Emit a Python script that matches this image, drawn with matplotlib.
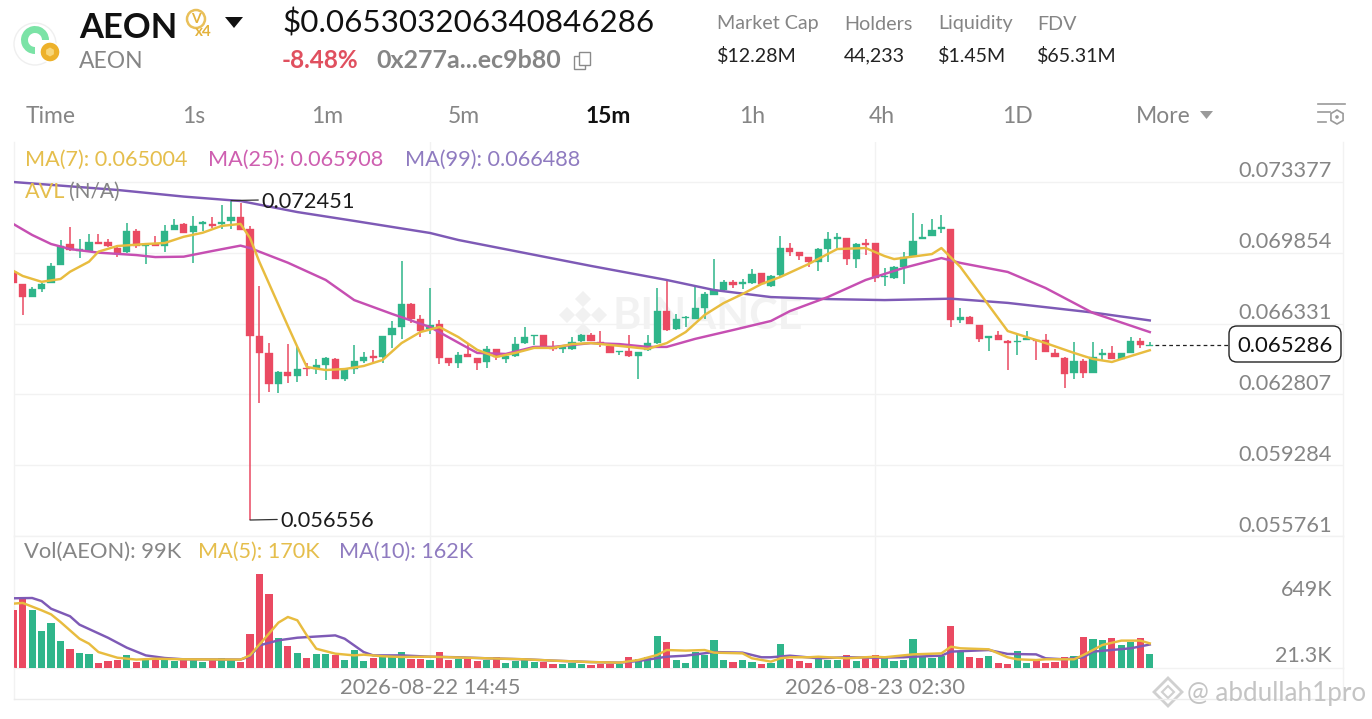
import matplotlib
matplotlib.use("Agg")
import matplotlib.pyplot as plt
from matplotlib.patches import FancyBboxPatch, Circle, Polygon, RegularPolygon, Rectangle, Wedge
from matplotlib.transforms import ScaledTranslation

# ---------- data (prices in millionths, volumes in thousands) ----------
opens = [68900,68300,67650,68050,68350,69250,70290,69940,69940,70390,70390,70090,69890,70940,70190,70290,70190,70990,71290,70890,
71290,71290,71290,71440,71630,71040,65710,64870,63320,63920,63720,64120,64070,64270,64570,63570,64070,64470,64720,64670,
65760,66160,67300,66560,66060,66310,64620,64370,64820,64620,64420,65070,64570,64720,65360,65710,65760,65170,65070,65070,
65460,65760,65410,65220,64920,64970,64720,65020,65360,66960,66060,66610,66560,67110,67750,68000,68400,68300,68350,68850,
68200,68750,70090,69890,69640,69390,70040,70540,70590,69540,70340,70340,68650,68600,69150,69690,70540,70690,71040,71040,
66510,66660,66260,65610,65760,65460,65410,65510,65510,65510,64870,64620,63870,64470,63870,64770,64870,64570,64870,65460,65210]
highs = [69000,68300,68150,68350,69350,70490,71140,70540,70790,70790,70540,70240,71340,71040,70340,70690,71240,71530,71340,71680,
71440,71630,72230,72451,72330,71190,68200,65360,63970,65310,65170,64370,64570,64670,64620,64120,65260,64920,65020,65710,
66460,69440,67350,66760,68100,66510,64620,64920,65310,64620,65220,65070,64770,65660,66160,65760,65760,65460,65220,65660,
65810,65860,65960,65260,64970,65760,64920,65760,68100,68550,66810,66710,68150,67900,69540,68500,68500,68550,69050,68850,
68750,70690,70340,69890,69640,70090,70890,70840,70590,70340,70540,70340,69100,69200,69890,71830,71290,71530,71730,71040,
67110,66710,66260,65710,65960,65510,65760,65960,65510,65810,65070,64670,65410,64570,65410,65070,65220,64870,65660,65610,65410]
lows = [68350,66760,67650,67900,68350,69250,69940,69590,69890,70290,70140,69640,69840,70090,69300,70190,69890,70990,70840,69350,
70940,71090,71040,71040,70990,56556,62380,62930,62880,63370,63420,63720,63820,63520,63570,63470,63820,64370,64420,64370,
65120,65560,66360,65660,65810,64320,64220,64120,64670,64020,64120,64520,64370,64670,65310,65260,65170,64970,64870,65020,
65410,65460,65170,64870,64770,64670,63570,64970,65310,65960,66010,66160,66560,66560,67750,67950,68100,68050,68300,68250,
68150,68650,69690,69490,69150,68950,69390,70090,69250,69100,69740,68400,68200,68550,68300,69690,70540,70690,70840,66160,
66360,66310,65410,64970,65510,64020,64770,65510,64520,64920,64670,63120,63570,63620,63870,64520,64570,64570,64870,65120,65220]
closes = [68350,67650,68050,68300,69200,70190,69990,70040,70390,70290,70190,69790,70940,70190,70240,70190,70940,71240,70840,71190,
71390,71190,71390,71630,70990,65710,64870,63320,63920,63720,64070,64070,64270,64620,63570,64070,64470,64670,64620,65710,
66110,67300,66560,65960,66260,64620,64370,64770,64670,64370,65070,64670,64720,65310,65660,65760,65170,65070,65170,65410,
65760,65460,65310,64870,64970,64720,64920,65360,66960,66010,66560,66660,67110,67800,68000,68400,68250,68400,68800,68300,
68700,70090,69890,69690,69390,70040,70540,70640,69540,70290,70240,68600,68700,69150,69640,70440,70640,70990,71140,66510,
66660,66310,65560,65710,65510,65360,65460,65610,65460,64920,64670,63820,64470,63870,64670,64870,64570,64870,65460,65260,65286]
volumes = [402,478,402,255,310,184,133,101,97,37,46,53,87,39,58,60,62,46,60,53,
39,53,71,58,41,232,646,511,209,154,106,71,97,99,92,58,122,48,69,76,
78,110,60,60,55,108,55,64,64,46,58,78,32,51,53,44,41,25,25,32,
25,23,25,28,28,78,62,78,223,177,53,37,113,90,196,53,44,53,41,28,
32,166,62,46,32,67,55,55,90,51,67,90,67,51,55,198,78,67,85,290,
113,76,71,83,32,28,120,37,51,37,44,78,85,212,198,191,205,159,182,207,99]

ma7_idx = [0,1,3,5,6,8,9,11,14,16,18,20,22,24,25,26,29,30,31,33,35,37,39,41,43,45,47,49,51,53,55,57,59,61,64,67,69,71,73,75,77,79,81,84,87,90,92,93,97,98,100,105,108,109,112,114,116,117,120]
ma7_val = [68960,68700,68410,68550,68910,69410,69910,70190,70290,70340,70650,70850,71190,71290,70590,69390,66210,65170,64170,64020,64070,64220,64520,65360,65910,66160,65660,65020,64670,64870,65120,65120,65310,65360,65220,65070,65360,65910,66760,67350,67800,68300,68650,69300,70040,70090,69690,69540,69790,70090,69150,65960,65510,65360,64870,64570,64420,64570,65004]
ma25_idx = [0,2,4,6,9,13,15,18,21,24,25,29,33,36,40,44,48,49,52,55,57,61,64,67,69,72,76,80,82,86,90,94,98,100,105,109,114,120]
ma25_val = [71290,70740,70290,70040,69860,69740,69640,69660,69940,70210,70090,69360,68500,67500,66810,66160,65120,64870,64820,65170,65170,65360,65310,65170,65170,65570,66010,66460,66950,67650,68500,69100,69590,69350,68900,68100,66860,65908]
ma99_idx = [0,11,18,24,30,36,44,47,61,69,74,80,86,92,99,105,114,120]
ma99_val = [73376,72980,72650,72430,71880,71440,70840,70490,69200,68500,68000,67650,67550,67500,67570,67360,66880,66488]

vma5_idx = [0,1,3,4,5,7,8,9,11,13,15,18,24,25,27,28,29,30,31,32,34,36,37,39,41,44,50,54,57,61,64,66,68,69,71,73,74,77,78,80,81,82,84,85,88,91,92,95,98,99,100,103,105,106,108,109,111,112,113,114,115,117,119,120]
vma5_val = [444,449,398,370,317,202,168,110,71,58,64,60,58,87,237,313,352,329,225,133,99,87,92,81,76,78,67,60,51,41,37,55,90,124,120,124,106,101,67,44,67,74,74,78,67,78,74,94,101,147,136,129,74,60,55,60,60,60,90,124,159,189,189,170]
vma10_idx = [0,2,3,4,6,7,10,12,14,16,18,24,25,26,28,30,34,35,37,38,41,44,47,50,54,57,61,64,66,69,71,74,77,79,80,82,85,88,91,94,95,98,99,103,105,108,109,111,113,114,118,120]
vma10_val = [481,483,462,409,357,299,209,140,87,69,60,58,81,156,191,209,225,202,110,87,87,78,74,67,60,51,41,37,48,78,85,110,106,74,74,85,67,74,71,74,78,85,113,124,97,94,67,60,74,113,136,162]

price_ticks = [73377,69854,66331,62807,59284,55761]
time_ticks = [44,91]
time_labels = ["2026-08-22 14:45","2026-08-23 02:30"]
tabs = ["Time","1s","1m","5m","15m","1h","4h","1D"]

U = 1e-6
GREEN, RED = "#2FB58A", "#EA4A62"
YEL, PINK, PUR = "#E8BC3F", "#C64FB2", "#7E5AB6"
GRID = "#F2F2F2"
GRY = "#858585"
W, H = 1372, 719
LW = 1.75
plt.rcParams["font.family"] = ["Lato", "DejaVu Sans"]

fig = plt.figure(figsize=(W/100, H/100), dpi=100, facecolor="white")

def rect(l, t, r, b):
    return [l/W, 1-b/H, (r-l)/W, (b-t)/H]

bg = fig.add_axes([0,0,1,1], zorder=0); bg.set_xlim(0,W); bg.set_ylim(H,0); bg.axis("off")
ax = fig.add_axes(rect(14,142,1343,536), zorder=1, facecolor="none")
av = fig.add_axes(rect(14,536,1343,668), zorder=1, facecolor="none")
ov = fig.add_axes([0,0,1,1], zorder=3, facecolor="none"); ov.set_xlim(0,W); ov.set_ylim(H,0); ov.axis("off")

# ---------- price pane ----------
n = len(closes)
x = list(range(n))
cols = [GREEN if c >= o else RED for o, c in zip(opens, closes)]
ax.set_xlim(0.084, 140.4)
ax.set_ylim(55761*U, 75366*U)
ax.vlines(x, [v*U for v in lows], [v*U for v in highs], colors=cols, lw=1.3, alpha=.85, zorder=3)
ax.bar(x, [abs(c-o)*U for o, c in zip(opens, closes)], bottom=[min(o, c)*U for o, c in zip(opens, closes)],
       width=0.76, color=cols, zorder=4, edgecolor=cols, linewidth=.25)
ax.plot(ma99_idx, [v*U for v in ma99_val], color=PUR, lw=LW, zorder=5, solid_joinstyle="round")
ax.plot(ma25_idx, [v*U for v in ma25_val], color=PINK, lw=LW, zorder=6, solid_joinstyle="round")
ax.plot(ma7_idx, [v*U for v in ma7_val], color=YEL, lw=LW, zorder=7, solid_joinstyle="round")

ax.set_yticks([v*U for v in price_ticks])
ax.set_yticklabels([f"{v*U:.6f}" for v in price_ticks])
ax.yaxis.tick_right()
ax.tick_params(axis="y", length=0, pad=-8, labelsize=15.7, labelcolor=GRY)
off = ScaledTranslation(0, 10.5/100, fig.dpi_scale_trans)
for lab in ax.get_yticklabels():
    lab.set_ha("right"); lab.set_va("center"); lab.set_transform(lab.get_transform()+off)
ax.set_xticks(time_ticks); ax.set_xticklabels([])
ax.tick_params(axis="x", length=0)
ax.grid(True, color=GRID, lw=1, zorder=0); ax.set_axisbelow(True)
for s in ax.spines.values():
    s.set_color(GRID); s.set_linewidth(1)
ax.spines["top"].set_visible(False); ax.spines["bottom"].set_visible(True)

hi = highs.index(max(highs)); lo = lows.index(min(lows))
for idx, val, dx, txt in [(hi, highs[hi], 30, f"{highs[hi]*U:.6f}"), (lo, lows[lo], 30, f"{lows[lo]*U:.6f}")]:
    ax.annotate(txt, xy=(idx, val*U), xytext=(dx*.72, -1), textcoords="offset points", va="center", ha="left",
                fontsize=15.7, color="#1b1b1b", zorder=9, annotation_clip=False,
                arrowprops=dict(arrowstyle="-", color="#333333", lw=.9, shrinkA=0, shrinkB=0, relpos=(0, 0.6)))
ax.hlines(closes[-1]*U, x[-1]+0.6, 128.5, colors="#222222", lw=.9, linestyles=(0,(3,2.5)), zorder=3)

# ---------- volume pane ----------
av.set_xlim(0.084, 140.4)
av.set_ylim(0, 132*6.9)
av.bar(x, volumes, width=0.76, color=cols, zorder=3)
av.plot(vma10_idx, vma10_val, color=PUR, lw=LW, zorder=4, solid_joinstyle="round")
av.plot(vma5_idx, vma5_val, color=YEL, lw=LW, zorder=5, solid_joinstyle="round")
av.set_yticks([])
av.set_xticks(time_ticks); av.set_xticklabels(time_labels)
av.tick_params(axis="x", length=0, pad=7, labelsize=15.8, labelcolor=GRY)
av.grid(True, axis="x", color=GRID, lw=1, zorder=0); av.set_axisbelow(True)
for s in av.spines.values():
    s.set_color(GRID); s.set_linewidth(1)
av.spines["top"].set_visible(False)

# frame beneath the time axis
ov.plot([14,14],[668,699], color=GRID, lw=1)
ov.plot([1343,1343],[668,699], color=GRID, lw=1)
ov.plot([14,1343],[699,699], color="#ECECEC", lw=1)

# ---------- header ----------
def T(px, py, s, size, color="black", weight="normal", ha="left", **kw):
    return ov.text(px, py+1.5, s, fontsize=size, color=color, fontweight=weight, ha=ha, va="center", **kw)

# token icon
ov.add_patch(Circle((35,44), 21, fc="white", ec="#EFEFEF", lw=1))
ov.add_patch(Wedge((35,40), 14, 90, 360, width=7, fc="#7BE3A6", ec="none"))
ov.add_patch(Circle((50,52), 10, fc="#EDB12A", ec="white", lw=1))
ov.add_patch(RegularPolygon((50,52), 6, radius=4.5, fc="#F7D67A", ec="none"))
T(79,27,"AEON",24.8,"#111111","bold")
T(79,59.5,"AEON",16.5,GRY)
ov.add_patch(Circle((196,19), 9, fc="none", ec="#E9C05A", lw=1.8))
T(196,17.5,"V",10,"#E3B23C","bold",ha="center")
T(203,31,"x4",11,"#E3B23C","bold",ha="center")
ov.add_patch(Polygon([[225,17],[243,17],[234,28]], fc="#111111", ec="none"))
T(282,22,"$0.065303206340846286",22.6,"#111111","normal")
T(282,59.5,"-8.48%",17.5,"#E0505F","bold")
T(376,59.5,"0x277a...ec9b80",18,GRY,"bold")
ov.add_patch(Rectangle((574,56),11,13,fc="white",ec="#8a8a8a",lw=1))
ov.add_patch(Rectangle((579,52),11,13,fc="white",ec="#8a8a8a",lw=1))

for px, lab, val in [(717,"Market Cap","$12.28M"),(844,"Holders","44,233"),(938,"Liquidity","$1.45M"),(1037,"FDV","$65.31M")]:
    T(px,22.5,lab,14.2,GRY)
    T(px,54,val,14.1,"#222222")

for px, lab in zip([26,182,311,448,586,739,869,1002], tabs):
    T(px,115,lab,16.5,"#111111" if lab=="15m" else GRY, "bold" if lab=="15m" else "normal")
T(1136,115,"More",16.5,GRY)
ov.add_patch(Polygon([[1200,111],[1213,111],[1206.5,119]], fc="#9a9a9a", ec="none"))
ov.plot([1318,1345],[104,104], color="#9a9a9a", lw=1.2)
ov.plot([1318,1330],[112,112], color="#9a9a9a", lw=1.2)
ov.plot([1318,1326],[122,122], color="#9a9a9a", lw=1.2)
ov.add_patch(RegularPolygon((1337,117), 6, radius=7, fc="white", ec="#9a9a9a", lw=1.2))
ov.add_patch(Circle((1337,117), 1.8, fc="#9a9a9a", ec="none"))

# legends
T(25,158,"MA(7): 0.065004",15.6,"#E5BE4C")
T(208,158,"MA(25): 0.065908",15.6,"#CE5FB0")
T(405,158,"MA(99): 0.066488",15.6,"#8F7BC0")
T(25,190,"AVL",15.6,"#E5BE4C"); T(69,190,"(N/A)",15,GRY)
T(24,550.5,"Vol(AEON): 99K",15.8,GRY)
T(198,550.5,"MA(5): 170K",15.6,"#E5BE4C")
T(339,550.5,"MA(10): 162K",15.6,"#8F7BC0")
T(1332,588,"649K",15.4,GRY,ha="right")
T(1332,654,"21.3K",15.4,GRY,ha="right")

# last price box
ov.add_patch(FancyBboxPatch((1229,326),112,36,boxstyle="round,pad=0,rounding_size=8",fc="white",ec="#222222",lw=1,zorder=5))
T(1285.5,344,"0.065286",15.9,"#111111",ha="center",zorder=6)

# watermarks
for dx, dy in [(0,0),(-16,0),(16,0),(0,-16),(0,16)]:
    bg.add_patch(RegularPolygon((583+dx,315+dy),4,radius=8,fc="#F1F1F1",ec="none"))
bg.text(612,316,"BINANCE",fontsize=31,color="#F2F2F2",fontweight="bold",ha="left",va="center")
ov.add_patch(RegularPolygon((1168,692),4,radius=14,fc="none",ec="#D0D0D0",lw=2))
ov.add_patch(RegularPolygon((1168,692),4,radius=6,fc="none",ec="#D0D0D0",lw=1.5))
T(1187,692,"@ abdullah1pro",18.7,"#C4C4C4")

fig.savefig("out.png", dpi=100, facecolor="white")
